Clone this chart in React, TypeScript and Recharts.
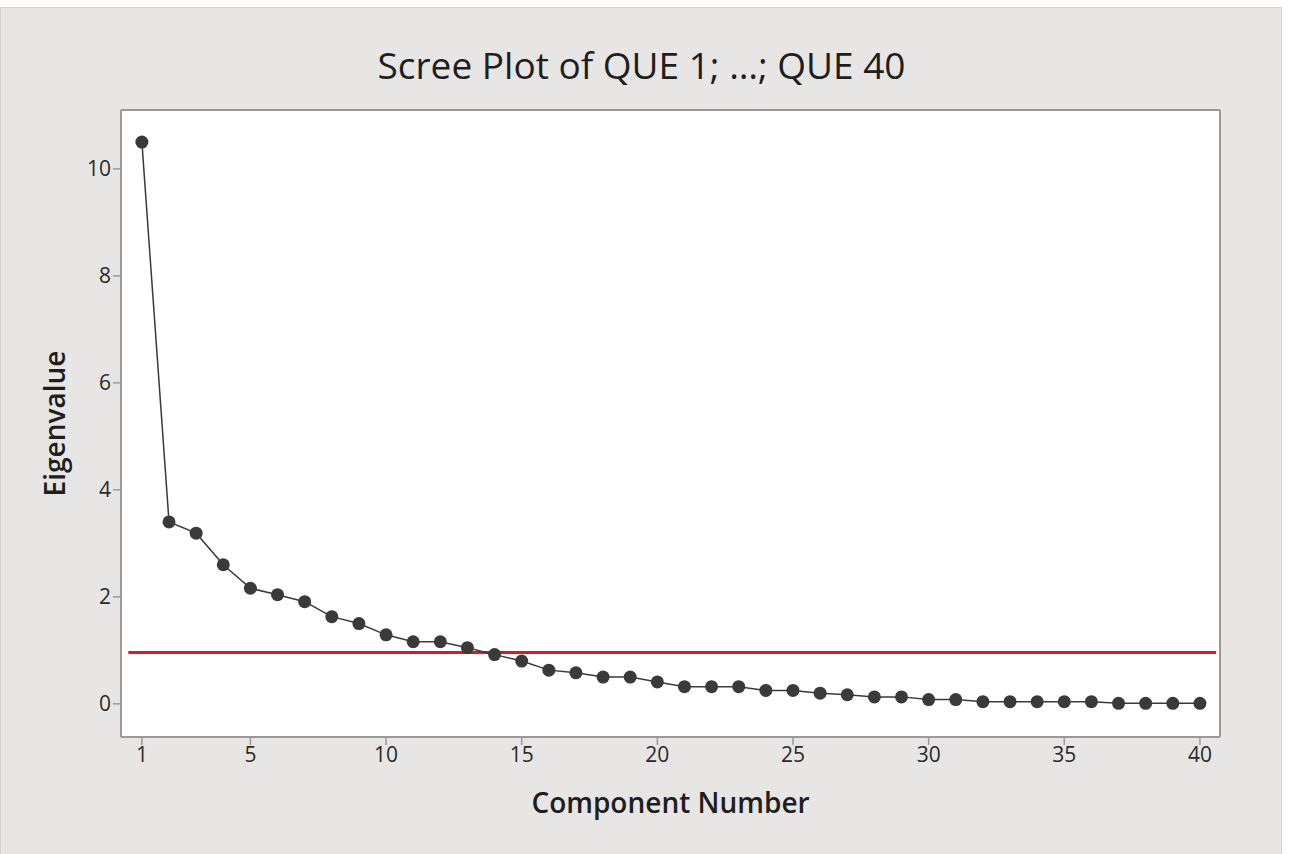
import React from "react"
import { LineChart, Line, XAxis, YAxis, ReferenceLine, CartesianGrid } from "recharts"

// component numbers 1..40
const components = [
  1, 2, 3, 4, 5, 6, 7, 8, 9, 10, 11, 12, 13, 14, 15, 16, 17, 18, 19, 20,
  21, 22, 23, 24, 25, 26, 27, 28, 29, 30, 31, 32, 33, 34, 35, 36, 37, 38, 39, 40,
]

// eigenvalues
const eigenvalues = [
  10.5, 3.4, 3.19, 2.6, 2.16, 2.04, 1.91, 1.63, 1.5, 1.29,
  1.16, 1.16, 1.05, 0.92, 0.8, 0.63, 0.58, 0.5, 0.5, 0.41,
  0.32, 0.32, 0.32, 0.25, 0.25, 0.2, 0.17, 0.13, 0.13, 0.08,
  0.08, 0.04, 0.04, 0.04, 0.04, 0.04, 0.01, 0.01, 0.01, 0.01,
]

const xTicks = [1, 5, 10, 15, 20, 25, 30, 35, 40]
const yTicks = [0, 2, 4, 6, 8, 10]

// red cut-off line
const cutoffValue = 0.96
const cutoffFrom = 0.5
const cutoffTo = 40.6

const data = components.map((c, i) => ({ component: c, eigen: eigenvalues[i] }))

const font = "'Open Sans', 'Noto Sans', sans-serif"
const tickStyle = { fontSize: 21, fill: "#2a2a2a", fontFamily: font }
const frame = { stroke: "#9a9a9a", strokeWidth: 2 }

export default function App() {
  return (
    <div style={{ position: "absolute", left: 0, top: 0, width: 1296, height: 854, background: "#fff", overflow: "hidden" }}>
      <div
        style={{
          position: "absolute",
          left: 0,
          top: 7,
          width: 1282,
          height: 860,
          background: "#e7e6e5",
          border: "1px solid #d4d4d4",
          boxSizing: "border-box",
        }}
      />
      <div
        style={{
          position: "absolute",
          left: 0,
          top: 42,
          width: 1283,
          textAlign: "center",
          fontFamily: font,
          fontSize: 37,
          fontWeight: 500,
          lineHeight: "46px",
          color: "#1e1e1e",
        }}
      >
        Scree Plot of QUE 1; …; QUE 40
      </div>
      <div style={{ position: "absolute", left: 0, top: 0 }}>
        <LineChart width={1296} height={854} data={data} margin={{ top: 110, right: 76, bottom: 37, left: 41 }}>
          {/* white plot area, with the top and right frame lines drawn as grid lines */}
          <CartesianGrid
            fill="#fff"
            stroke="#9a9a9a"
            strokeWidth={2}
            horizontalCoordinatesGenerator={({ offset }: any) => [offset.top]}
            verticalCoordinatesGenerator={({ offset }: any) => [offset.left + offset.width]}
          />
          <XAxis
            dataKey="component"
            type="number"
            domain={[0.23, 40.74]}
            ticks={xTicks}
            allowDataOverflow
            height={80}
            tickSize={8}
            tick={tickStyle}
            axisLine={frame}
            tickLine={{ stroke: "#9a9a9a", strokeWidth: 1.5 }}
            label={{
              value: "Component Number",
              position: "insideBottom",
              offset: 4,
              style: { fontSize: 28, fontWeight: 600, fill: "#1e1e1e", fontFamily: font },
            }}
          />
          <YAxis
            type="number"
            domain={[-0.62, 11.1]}
            ticks={yTicks}
            allowDataOverflow
            width={80}
            tickSize={8}
            tick={tickStyle}
            axisLine={frame}
            tickLine={{ stroke: "#9a9a9a", strokeWidth: 1.5 }}
            label={{
              value: "Eigenvalue",
              angle: -90,
              position: "insideLeft",
              offset: 14,
              style: { textAnchor: "middle", fontSize: 28, fontWeight: 600, fill: "#1e1e1e", fontFamily: font },
            }}
          />
          <ReferenceLine
            segment={[
              { x: cutoffFrom, y: cutoffValue },
              { x: cutoffTo, y: cutoffValue },
            ]}
            stroke="#e8141c"
            strokeWidth={3}
            ifOverflow="visible"
          />
          <Line
            dataKey="eigen"
            stroke="#3a3a3a"
            strokeWidth={1.5}
            dot={{ r: 6.5, fill: "#3a3a3a", stroke: "none" }}
            activeDot={false}
            isAnimationActive={false}
          />
        </LineChart>
      </div>
    </div>
  )
}
